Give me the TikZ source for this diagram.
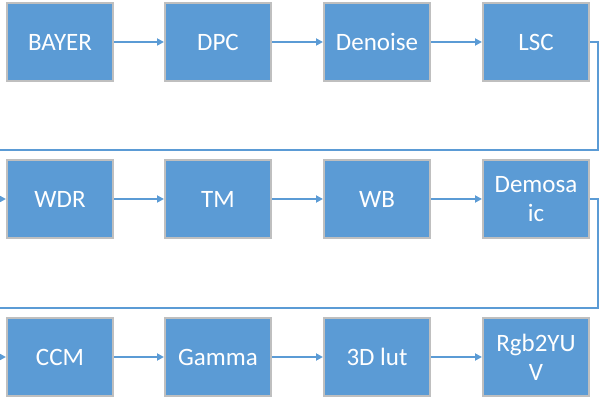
\documentclass[tikz,border=0pt]{standalone}
\usepackage{fontspec}
\setmainfont{Carlito}
\usetikzlibrary{arrows.meta}
\definecolor{boxfill}{HTML}{5B9BD5}
\definecolor{boxline}{HTML}{BFBFBF}
\begin{document}
\begin{tikzpicture}[x=1pt,y=-1pt,
  box/.style={draw=boxline,line width=2pt,fill=boxfill,minimum width=106pt,minimum height=78pt,inner sep=1pt,text=white,font=\fontsize{25}{29}\selectfont,align=center},
  con/.style={draw=boxfill,line width=2pt,-{Triangle[length=7pt,width=7pt]}}]
\useasboundingbox (0,0) rectangle (600,403);
\foreach \n/\t/\x/\y in {a/BAYER/60/42,b/DPC/218/42,c/Denoise/377/42,d/LSC/536/42,
  e/WDR/60/199,f/TM/218/199,g/WB/377/199,h/Demosa\\ic/536/199,
  i/CCM/60/357,j/Gamma/218/357,k/3D lut/377/357,l/Rgb2YU\\V/536/357}
  \node[box] (\n) at (\x,\y) {\t};
\coordinate (w1) at (0,150);
\coordinate (w2) at (0,308);
\draw[con] (a) -- (b); \draw[con] (b) -- (c); \draw[con] (c) -- (d);
\draw[con] (e) -- (f); \draw[con] (f) -- (g); \draw[con] (g) -- (h);
\draw[con] (i) -- (j); \draw[con] (j) -- (k); \draw[con] (k) -- (l);
\draw[draw=boxfill,line width=2pt] (d.east) -- (598,42) -- (598,150) -- (w1);
\draw[draw=boxfill,line width=2pt] (h.east) -- (598,199) -- (598,308) -- (w2);
\draw[con] (0,199) -- (e.west);
\draw[con] (0,357) -- (i.west);
\end{tikzpicture}
\end{document}
